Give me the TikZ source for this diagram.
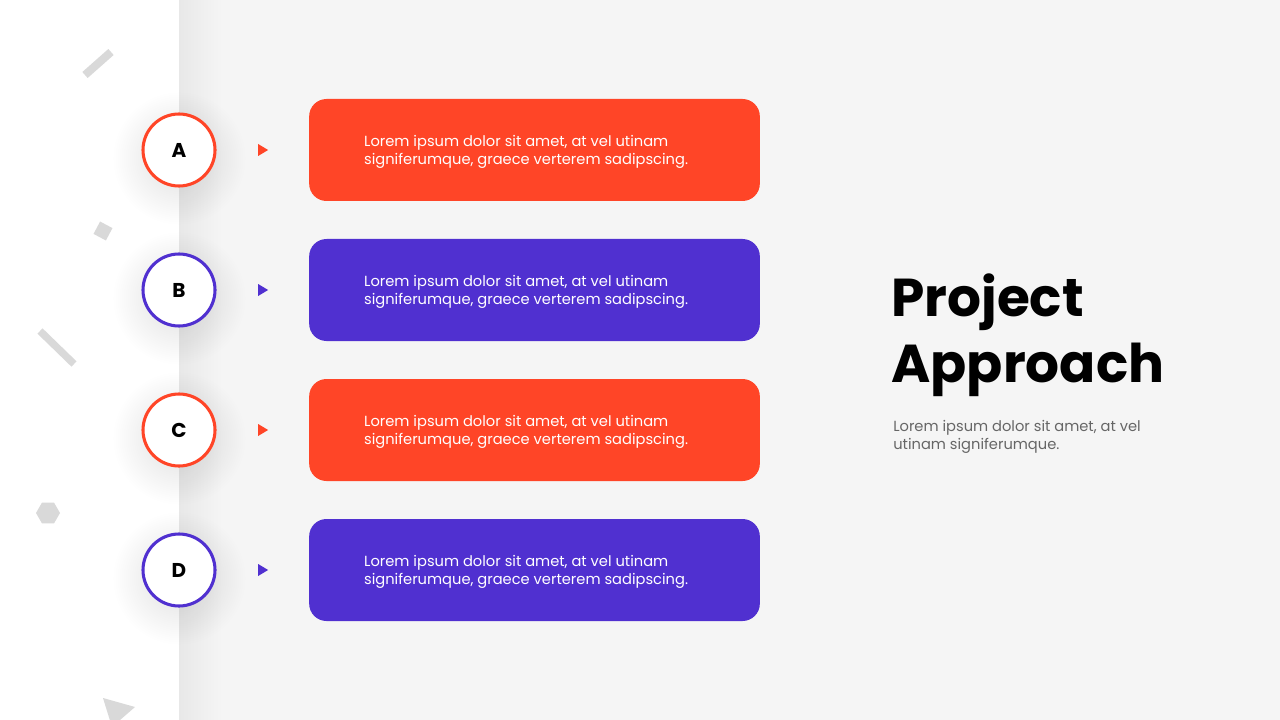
\documentclass[tikz,border=0pt]{standalone}
\usepackage{fontspec}
\setmainfont{Poppins}
\usepackage{tikz}
\usetikzlibrary{shapes.geometric,fadings}
\definecolor{accentred}{HTML}{FF4527}
\definecolor{accentblue}{HTML}{5030D0}
\definecolor{panelgray}{HTML}{F5F5F5}
\definecolor{decogray}{HTML}{D9D9D9}
\definecolor{subgray}{HTML}{666666}
\tikzfading[name=softshadow, inner color=transparent!0, outer color=transparent!100]
\begin{document}
\begin{tikzpicture}[x=0.75pt, y=-0.75pt,
    stepcircle/.style={circle, draw=#1, line width=2.3pt, fill=white, minimum size=54pt, inner sep=0pt,
        font=\bfseries\fontsize{15}{15}\selectfont},
    stepshadow/.style={fill=black, opacity=0.13, path fading=softshadow},
    stepbox/.style={rounded corners=13pt, fill=#1, minimum width=338pt, minimum height=76.5pt, inner sep=0pt},
    boxtext/.style={text=white, font=\fontsize{11}{13.5}\selectfont, align=left, anchor=west, inner sep=0pt},
    marker/.style={isosceles triangle, isosceles triangle stretches, fill=#1, minimum width=9pt, minimum height=7.5pt, inner sep=0pt}]
    \useasboundingbox (0,0) rectangle (1280,720);
    % Background panels
    \fill[white] (0,0) rectangle (179,720);
    \fill[panelgray] (179,0) rectangle (1280,720);
    \shade[left color=black!9, right color=panelgray] (179,0) rectangle (222,720);
    % Decorations
    \draw[decogray, line width=6pt] (85,75) -- (111,52);
    \fill[decogray, rotate around={-28:(103,231)}] (96,224) rectangle (110,238);
    \draw[decogray, line width=5.5pt] (40,331) -- (74,364);
    \node[regular polygon, regular polygon sides=6, fill=decogray, minimum size=18pt, inner sep=0pt] (hex) at (48,513) {};
    \fill[decogray] (103,698) -- (135,707) -- (112,727) -- cycle;
    % Shadows under the steps
    \fill[stepshadow] (179,158) circle (50pt);
    \fill[stepshadow] (179,298) circle (50pt);
    \fill[stepshadow] (179,438) circle (50pt);
    \fill[stepshadow] (179,578) circle (50pt);
    % Step A
    \node[stepcircle=accentred] (A) at (179,150) {A};
    \node[marker=accentred] (mA) at (261.5,150) {};
    \node[stepbox=accentred] (boxA) at (534.5,150) {};
    \node[boxtext] (textA) at ([xshift=41.25pt, yshift=-1.5pt]boxA.west) {Lorem ipsum dolor sit amet, at vel utinam\\signiferumque, graece verterem sadipscing.};
    % Step B
    \node[stepcircle=accentblue] (B) at (179,290) {B};
    \node[marker=accentblue] (mB) at (261.5,290) {};
    \node[stepbox=accentblue] (boxB) at (534.5,290) {};
    \node[boxtext] (textB) at ([xshift=41.25pt, yshift=-1.5pt]boxB.west) {Lorem ipsum dolor sit amet, at vel utinam\\signiferumque, graece verterem sadipscing.};
    % Step C
    \node[stepcircle=accentred] (C) at (179,430) {C};
    \node[marker=accentred] (mC) at (261.5,430) {};
    \node[stepbox=accentred] (boxC) at (534.5,430) {};
    \node[boxtext] (textC) at ([xshift=41.25pt, yshift=-1.5pt]boxC.west) {Lorem ipsum dolor sit amet, at vel utinam\\signiferumque, graece verterem sadipscing.};
    % Step D
    \node[stepcircle=accentblue] (D) at (179,570) {D};
    \node[marker=accentblue] (mD) at (261.5,570) {};
    \node[stepbox=accentblue] (boxD) at (534.5,570) {};
    \node[boxtext] (textD) at ([xshift=41.25pt, yshift=-1.5pt]boxD.west) {Lorem ipsum dolor sit amet, at vel utinam\\signiferumque, graece verterem sadipscing.};
    % Title
    \node[anchor=north west, align=left, inner sep=0pt, font=\bfseries\fontsize{40}{49}\selectfont] (title) at (891,274) {Project\\Approach};
    \node[anchor=north west, align=left, inner sep=0pt, text=subgray, font=\fontsize{11}{13.5}\selectfont] (subtitle) at (893,420) {Lorem ipsum dolor sit amet, at vel\\utinam signiferumque.};
\end{tikzpicture}
\end{document}
